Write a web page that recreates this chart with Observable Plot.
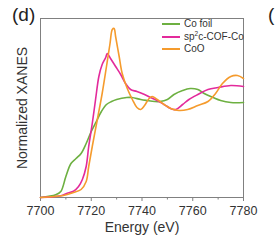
<!DOCTYPE html>
<html>
<head>
<meta charset="utf-8">
<script src="https://cdn.jsdelivr.net/npm/d3@7"></script>
<script src="https://cdn.jsdelivr.net/npm/@observablehq/plot@0.6"></script>
<style>
  html, body { margin: 0; padding: 0; background: #fff; }
  #wrap { position: relative; width: 275px; height: 244px; overflow: hidden; font-family: "Liberation Sans", Arial, sans-serif; color: #333; }
  .lbl { position: absolute; white-space: nowrap; }
  .leg { position: absolute; left: 162px; font-size: 10px; line-height: 12px; }
  .leg div { display: flex; align-items: center; height: 12.5px; }
  .leg span.sw { display: inline-block; width: 18px; height: 2px; margin-right: 4px; }
</style>
</head>
<body>
<div id="wrap"></div>
<script>
const series = ["Co foil", "sp2c-COF-Co", "CoO"];
const colors = ["#6db041", "#e32a9b", "#f59b2d"];

const coFoilE = [7700,7706,7708,7710,7712,7714,7716,7718,7720,7722,7724,7726,7728,7730,7734,7736,7739.5,7742,7745,7747,7750,7752.6,7756,7759,7762,7764.5,7768,7771,7775,7780];
const coFoilY = [0,0.027,0.06,0.21,0.34,0.39,0.44,0.54,0.66,0.76,0.86,0.93,0.96,0.98,1.00,1.00,0.98,0.97,0.96,0.96,0.98,1.03,1.07,1.09,1.08,1.04,1.00,0.97,0.95,0.95];

const cofE = [7700,7708,7710.5,7713,7715,7716.5,7718,7719,7720.4,7721.7,7723,7724.3,7725.7,7726.3,7727.6,7729.6,7731.6,7733.5,7735.5,7738,7741,7743.4,7746,7748.7,7751.3,7753.3,7756,7758.5,7762,7766,7770,7775,7780];
const cofY = [0,0.017,0.043,0.063,0.11,0.18,0.31,0.51,0.74,0.98,1.21,1.33,1.40,1.44,1.39,1.31,1.23,1.14,1.08,1.06,1.03,1.00,0.97,0.93,0.89,0.88,0.93,0.98,1.03,1.08,1.10,1.12,1.11];

const cooE = [7700,7709,7713,7716,7718,7719,7720.4,7722.4,7724.3,7726,7727.4,7728.3,7729,7729.6,7731,7732.2,7734.2,7736.2,7738,7739.5,7741,7742.8,7744,7746,7748.7,7751.3,7754.6,7758,7762,7766,7769,7771.7,7775,7777.6,7780];
const cooY = [0,0.02,0.05,0.08,0.16,0.31,0.51,0.78,1.04,1.31,1.54,1.68,1.69,1.61,1.41,1.24,1.09,0.98,0.90,0.88,0.92,0.99,1.01,0.98,0.93,0.89,0.87,0.88,0.92,0.96,1.04,1.14,1.21,1.22,1.19];

const xTicks = [7700, 7720, 7740, 7760, 7780];
const xMinor = [7710, 7730, 7750, 7770];

const energies = [coFoilE, cofE, cooE];
const values = [coFoilY, cofY, cooY];
const data = series.flatMap((s, i) => energies[i].map((e, j) => ({series: s, E: e, v: values[i][j]})));

const plot = Plot.plot({
  width: 275,
  height: 244,
  marginLeft: 40,
  marginRight: 32,
  marginTop: 18,
  marginBottom: 47,
  style: {fontFamily: "Liberation Sans, Arial, sans-serif", color: "#333", background: "transparent"},
  x: {domain: [7700, 7780]},
  y: {domain: [0, 1.79], axis: null},
  color: {domain: series, range: colors},
  marks: [
    Plot.frame({stroke: "#808080", strokeWidth: 1}),
    Plot.axisX({ticks: xMinor, tickSize: 2.5, tickFormat: () => "", label: null, stroke: "#808080"}),
    Plot.axisX({ticks: xTicks, tickSize: 4, tickPadding: 5, fontSize: 12.5, label: null, tickFormat: d3.format("d"), stroke: "#808080"}),
    Plot.line(data, {x: "E", y: "v", z: "series", stroke: "series", strokeWidth: 1.6, curve: "catmull-rom"}),
    Plot.text(["Energy (eV)"], {frameAnchor: "bottom", lineAnchor: "middle", dy: 30, fontSize: 14, fill: "#333"}),
    Plot.text(["Normalized XANES"], {frameAnchor: "left", lineAnchor: "middle", textAnchor: "middle", dx: -18, rotate: -90, fontSize: 14, fill: "#333"})
  ]
});

const wrap = document.getElementById("wrap");
wrap.appendChild(plot);

const d = document.createElement("div");
d.className = "lbl"; d.textContent = "(d)";
d.style.left = "12px"; d.style.top = "4px"; d.style.fontSize = "19px"; d.style.color = "#222";
wrap.appendChild(d);

const e = document.createElement("div");
e.className = "lbl"; e.textContent = "(";
e.style.left = "268px"; e.style.top = "4px"; e.style.fontSize = "19px"; e.style.color = "#222";
wrap.appendChild(e);

const leg = document.createElement("div");
leg.className = "leg";
leg.style.top = "18px";
series.forEach((s, i) => {
  const row = document.createElement("div");
  const sw = document.createElement("span");
  sw.className = "sw"; sw.style.background = colors[i];
  row.appendChild(sw);
  const t = document.createElement("span");
  if (s === "sp2c-COF-Co") {
    t.innerHTML = "sp<sup style=\"font-size:6.5px;vertical-align:4px;line-height:0\">2</sup>c-COF-Co";
  } else {
    t.textContent = s;
  }
  row.appendChild(t);
  leg.appendChild(row);
});
wrap.appendChild(leg);
</script>
</body>
</html>
